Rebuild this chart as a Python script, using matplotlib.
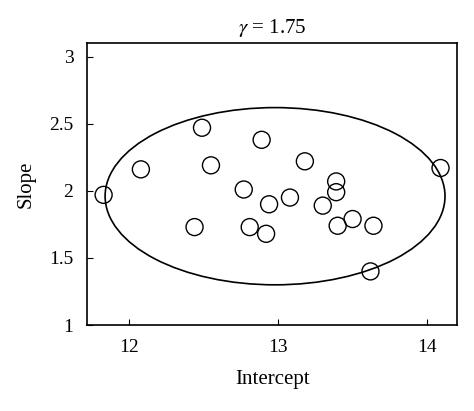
import matplotlib
matplotlib.use("Agg")
import matplotlib.pyplot as plt
import numpy as np
from matplotlib.patches import Ellipse

plt.rcParams['font.family'] = ['Liberation Serif']
plt.rcParams['mathtext.fontset'] = 'stix'
intercept = [11.83, 12.08, 12.49, 12.55, 12.44, 12.77, 12.89, 12.81, 12.94, 12.92,
             13.08, 13.18, 13.30, 13.39, 13.39, 13.40, 13.50, 13.64, 13.62, 14.09]
slope = [1.97, 2.16, 2.47, 2.19, 1.73, 2.01, 2.38, 1.73, 1.90, 1.68,
         1.95, 2.22, 1.89, 2.07, 1.99, 1.74, 1.79, 1.74, 1.40, 2.17]
ell_center = (12.98, 1.96)
ell_w, ell_h = 2.28, 1.32

fig = plt.figure(figsize=(4.74, 4.11), dpi=100)
ax = fig.add_axes([0.184, 0.209, 0.78, 0.686])
ax.add_patch(Ellipse(ell_center, ell_w, ell_h, fill=False, color='black', lw=1.2))
ax.scatter(intercept, slope, s=150, facecolors='none', edgecolors='black', linewidths=1.0, zorder=3)
ax.set_xlim(11.72, 14.2)
ax.set_ylim(1, 3.1)
ax.set_xticks([12, 13, 14])
ax.set_yticks([1, 1.5, 2, 2.5, 3])
ax.set_yticklabels(['1', '1.5', '2', '2.5', '3'])
ax.tick_params(direction='in', length=4, labelsize=14, pad=10)
for s in ax.spines.values():
    s.set_linewidth(1.2)
ax.set_xlabel('Intercept', fontsize=15, labelpad=10)
ax.set_ylabel('Slope', fontsize=15, labelpad=10)
ax.set_title(r'$\gamma$ = 1.75', fontsize=15, pad=7)
fig.savefig('out.png', dpi=100)
